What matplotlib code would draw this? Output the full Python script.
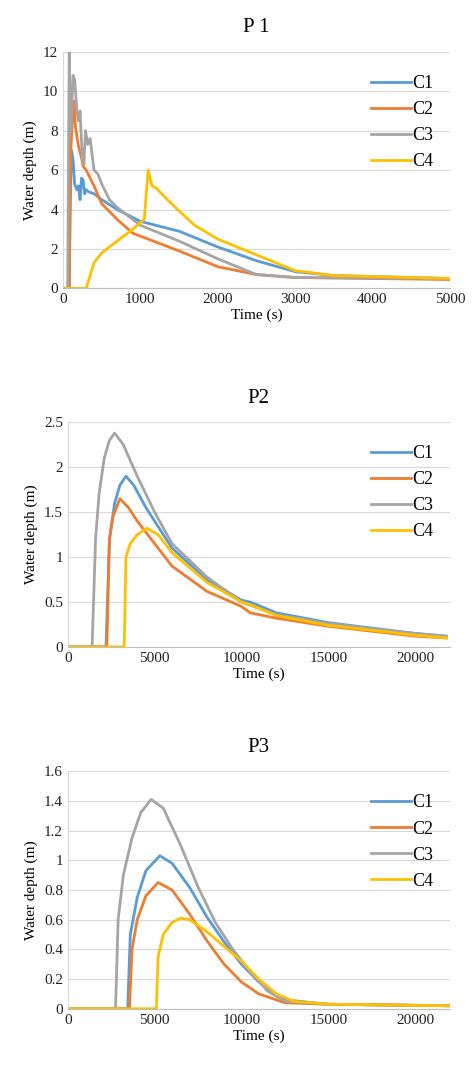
import matplotlib
matplotlib.use("Agg")
import matplotlib.pyplot as plt
import numpy as np

plt.rcParams['font.family'] = ['Liberation Serif', 'DejaVu Serif']

colors = {'C1': '#5B9BD5', 'C2': '#ED7D31', 'C3': '#A5A5A5', 'C4': '#FFC000'}

# P1
p1_c1_t = [0,80,90,110,130,150,180,200,220,240,260,280,300,330,400,500,700,1000,1500,2000,2500,3000,3500,4000,5000]
p1_c1_v = [0,0,4,7,6.5,5.3,5.0,5.2,4.5,5.6,5.5,4.8,5.0,4.9,4.8,4.5,4.0,3.4,2.9,2.1,1.4,0.85,0.65,0.6,0.5]
p1_c2_t = [0,80,100,120,140,160,200,240,260,300,400,500,700,900,1100,1500,2000,2500,3000,4000,5000]
p1_c2_v = [0,0,7,8.5,9.5,8.2,7.2,6.6,6.2,6.0,5.2,4.3,3.5,2.8,2.5,1.9,1.1,0.7,0.55,0.5,0.45]
p1_c3_t = [0,60,80,100,130,150,180,200,220,250,270,290,320,350,400,450,500,600,700,1000,1500,2000,2500,3000,5000]
p1_c3_v = [0,0,12,8,10.8,10.6,9,8.5,9,6.5,6.3,8,7.3,7.6,6.0,5.8,5.3,4.5,4.1,3.2,2.4,1.5,0.7,0.55,0.5]
p1_c4_t = [0,300,400,500,700,900,1050,1100,1150,1200,1400,1700,2000,2500,3000,3500,5000]
p1_c4_v = [0,0,1.3,1.8,2.4,3.0,3.5,6.0,5.2,5.1,4.3,3.2,2.5,1.7,0.9,0.65,0.5]

# P2
p2_c1_t = [0,2200,2400,2700,3000,3350,3800,4500,5000,6000,8000,10000,10500,12000,15000,20000,21800]
p2_c1_v = [0,0,1.2,1.6,1.8,1.9,1.8,1.55,1.4,1.1,0.75,0.52,0.5,0.38,0.27,0.15,0.12]
p2_c2_t = [0,2250,2400,2600,3000,3500,4000,5000,6000,8000,10000,10500,12000,15000,20000,21800]
p2_c2_v = [0,0,1.2,1.45,1.65,1.55,1.4,1.15,0.9,0.62,0.45,0.38,0.32,0.23,0.12,0.1]
p2_c3_t = [0,1400,1600,1800,2100,2400,2700,3200,4000,5000,6000,8000,10000,12000,15000,20000,21800]
p2_c3_v = [0,0,1.2,1.7,2.1,2.3,2.38,2.25,1.9,1.5,1.15,0.78,0.5,0.36,0.26,0.15,0.12]
p2_c4_t = [0,3250,3350,3600,4000,4550,5200,6000,8000,10000,10500,12000,15000,20000,21800]
p2_c4_v = [0,0,1.0,1.15,1.25,1.32,1.25,1.05,0.72,0.5,0.47,0.35,0.24,0.13,0.1]

# P3
p3_c1_t = [0,3450,3600,4000,4500,5300,6000,7000,8000,9000,10000,11000,12500,15000,22000]
p3_c1_v = [0,0,0.5,0.75,0.93,1.03,0.98,0.82,0.62,0.45,0.3,0.18,0.06,0.03,0.02]
p3_c2_t = [0,3550,3700,4000,4500,5200,6000,7000,8000,9000,10000,11000,12500,15000,22000]
p3_c2_v = [0,0,0.4,0.6,0.76,0.85,0.8,0.64,0.46,0.3,0.18,0.1,0.04,0.03,0.02]
p3_c3_t = [0,2750,2900,3200,3700,4200,4800,5500,6500,7500,8500,9500,10500,11500,12500,15000,22000]
p3_c3_v = [0,0,0.6,0.9,1.15,1.32,1.41,1.35,1.1,0.82,0.58,0.4,0.25,0.12,0.05,0.03,0.02]
p3_c4_t = [0,5100,5200,5500,6000,6500,7000,8000,9000,10000,11000,12000,13000,15000,22000]
p3_c4_v = [0,0,0.35,0.5,0.58,0.61,0.6,0.52,0.42,0.32,0.2,0.1,0.05,0.03,0.02]

panels = [
    ('P 1', [(p1_c1_t, p1_c1_v), (p1_c2_t, p1_c2_v), (p1_c3_t, p1_c3_v), (p1_c4_t, p1_c4_v)],
     [0.133, 0.733, 0.816, 0.219], (0, 5000), np.arange(0, 5001, 1000), (0, 12), np.arange(0, 13, 2), ['0','2','4','6','8','10','12']),
    ('P2', [(p2_c1_t, p2_c1_v), (p2_c2_t, p2_c2_v), (p2_c3_t, p2_c3_v), (p2_c4_t, p2_c4_v)],
     [0.143, 0.401, 0.806, 0.208], (0, 22000), np.arange(0, 20001, 5000), (0, 2.5), np.arange(0, 2.51, 0.5), ['0','0.5','1','1.5','2','2.5']),
    ('P3', [(p3_c1_t, p3_c1_v), (p3_c2_t, p3_c2_v), (p3_c3_t, p3_c3_v), (p3_c4_t, p3_c4_v)],
     [0.143, 0.066, 0.806, 0.220], (0, 22000), np.arange(0, 20001, 5000), (0, 1.6), np.arange(0, 1.61, 0.2), ['0','0.2','0.4','0.6','0.8','1','1.2','1.4','1.6']),
]

fig = plt.figure(figsize=(4.74, 10.8), dpi=100)
for title, series, rect, xl, xt, yl, yt, ytl in panels:
    ax = fig.add_axes(rect)
    for name, (t, v) in zip(['C1', 'C2', 'C3', 'C4'], series):
        ax.plot(t, v, color=colors[name], lw=2, label=name)
    ax.set_xlim(*xl); ax.set_ylim(*yl)
    ax.set_xticks(xt); ax.set_yticks(yt); ax.set_yticklabels(ytl)
    ax.grid(axis='y', color='#D9D9D9', lw=0.8)
    ax.set_axisbelow(True)
    for s in ['top', 'right']:
        ax.spines[s].set_visible(False)
    ax.spines['left'].set_color('#D9D9D9')
    ax.spines['bottom'].set_color('#BFBFBF')
    ax.tick_params(length=0, labelsize=11, colors='#222222')
    ax.set_xlabel('Time (s)', fontsize=11, labelpad=2)
    ax.set_ylabel('Water depth (m)', fontsize=11)
    ax.set_title(title, fontsize=15, pad=14)
    ax.legend(loc='upper right', frameon=False, fontsize=13, handlelength=2.2, handletextpad=0.1, labelspacing=0.5, bbox_to_anchor=(1.0, 0.97))

fig.savefig('out.png', dpi=100)
